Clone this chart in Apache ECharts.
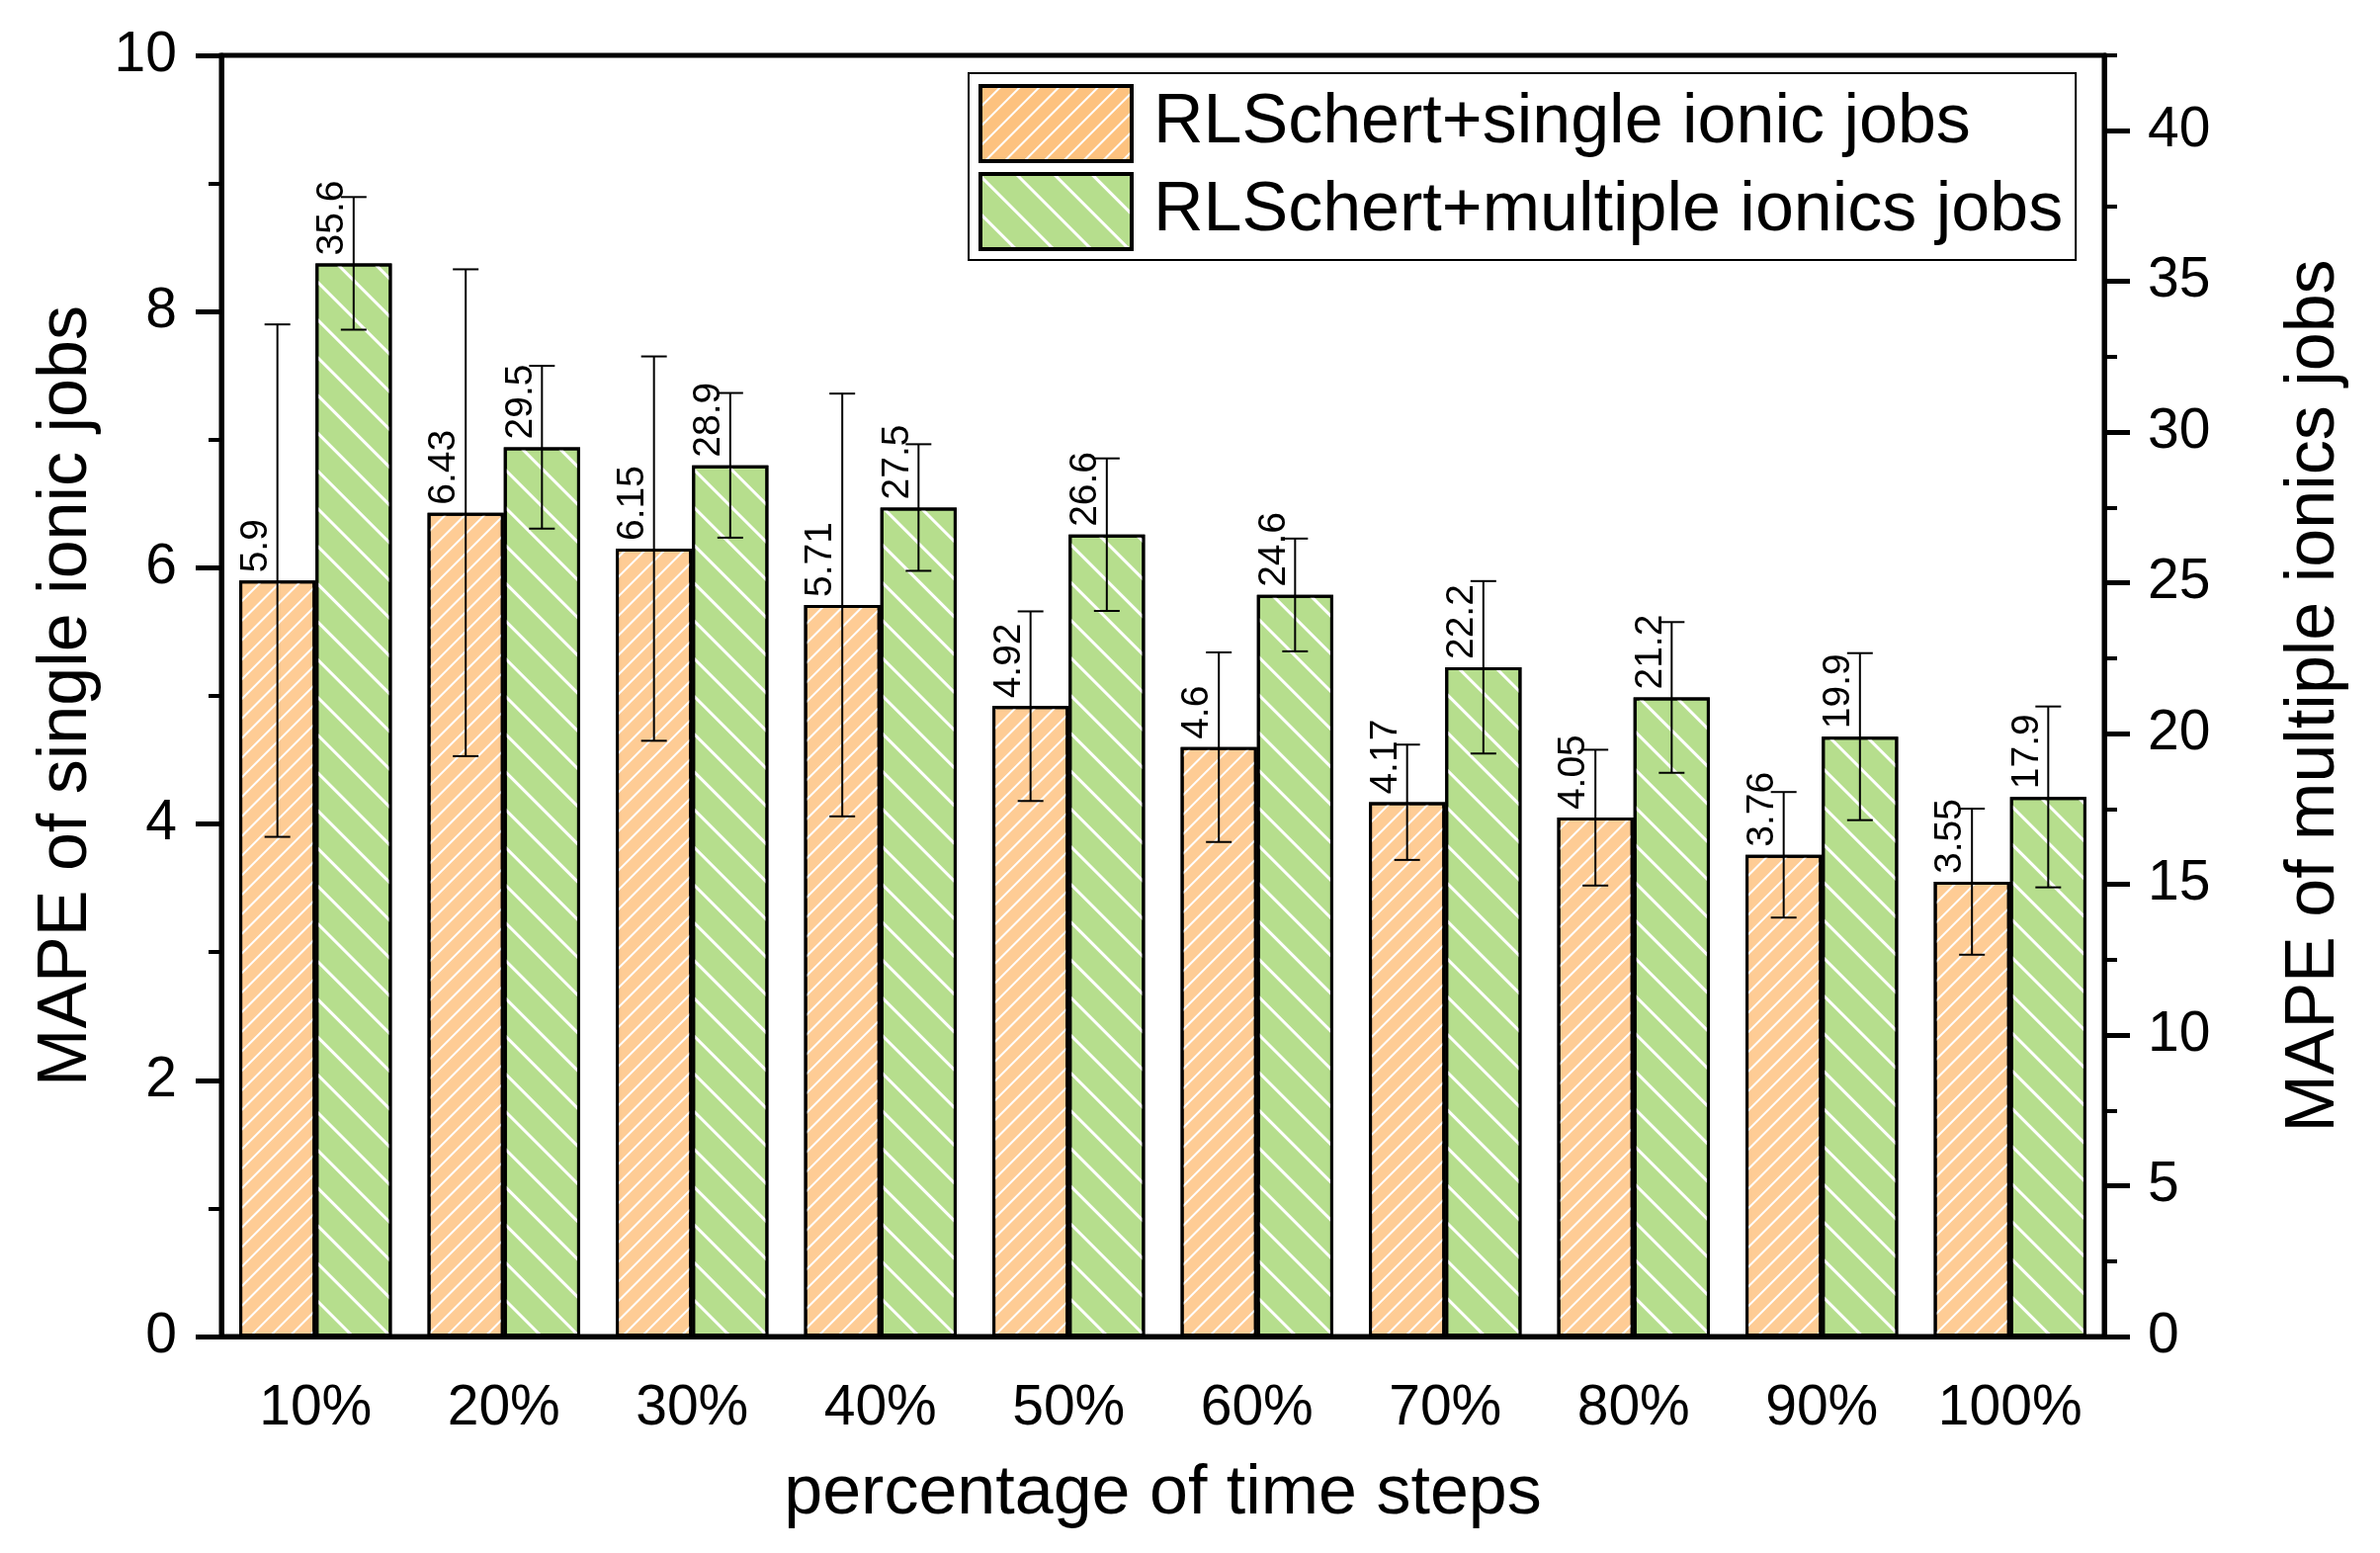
<!DOCTYPE html>
<html>
<head>
<meta charset="utf-8">
<title>MAPE vs percentage of time steps</title>
<script src="https://cdn.jsdelivr.net/npm/echarts@6/dist/echarts.min.js"></script>
<style>
  html, body { margin: 0; padding: 0; background: #fff; }
  #chart { width: 2408px; height: 1571px; }
</style>
</head>
<body>
<div id="chart"></div>
<script>
// categories on the x axis
var categories = ['10%', '20%', '30%', '40%', '50%', '60%', '70%', '80%', '90%', '100%'];

// MAPE of single ionic jobs (left axis) and its error
var singleMape = [5.9, 6.43, 6.15, 5.71, 4.92, 4.6, 4.17, 4.05, 3.76, 3.55];
var singleErr = [2.0, 1.9, 1.5, 1.65, 0.74, 0.74, 0.45, 0.53, 0.49, 0.57];

// MAPE of multiple ionics jobs (right axis) and its error
var multiMape = [35.6, 29.5, 28.9, 27.5, 26.6, 24.6, 22.2, 21.2, 19.9, 17.9];
var multiErr = [2.2, 2.7, 2.4, 2.1, 2.53, 1.87, 2.86, 2.5, 2.77, 3.0];

// tick labels of the right axis
var rightTicks = [0, 5, 10, 15, 20, 25, 30, 35, 40];

var singleName = 'RLSchert+single ionic jobs';
var multiName = 'RLSchert+multiple ionics jobs';
var font = 'Liberation Sans, Arial, sans-serif';
var barShare = 0.81; // both bars of a group together

var chart = echarts.init(document.getElementById('chart'));

// error bar drawn on the left (-1) or right (+1) bar of a group
function errorBar(side) {
    return function (params, api) {
        var i = api.value(0);
        var lo = api.coord([i, api.value(1)]);
        var hi = api.coord([i, api.value(2)]);
        var band = api.size([1, 0])[0];
        var x = lo[0] + side * band * barShare / 4;
        var cap = 13;
        var style = { stroke: '#000', lineWidth: 2 };
        return {
            type: 'group',
            children: [
                { type: 'line', shape: { x1: x, y1: hi[1], x2: x, y2: lo[1] }, style: style },
                { type: 'line', shape: { x1: x - cap, y1: hi[1], x2: x + cap, y2: hi[1] }, style: style },
                { type: 'line', shape: { x1: x - cap, y1: lo[1], x2: x + cap, y2: lo[1] }, style: style }
            ]
        };
    };
}

function errData(values, errs) {
    return values.map(function (v, i) {
        return [i, v - errs[i], v + errs[i]];
    });
}

var valueLabel = {
    show: true,
    position: [17, -8],
    rotate: 90,
    align: 'left',
    verticalAlign: 'middle',
    fontSize: 39,
    fontFamily: font,
    color: '#000'
};

var tickFont = { fontSize: 57, fontFamily: font, color: '#000' };
var titleFont = { fontSize: 70, fontFamily: font, color: '#000' };

var option = {
    animation: false,
    backgroundColor: '#fff',
    grid: {
        left: 224,
        right: 279,
        top: 56,
        bottom: 219,
        show: true,
        borderColor: '#000',
        borderWidth: 5,
        backgroundColor: 'transparent'
    },
    legend: {
        orient: 'vertical',
        left: 980,
        top: 74,
        padding: [11, 13, 9, 10],
        itemWidth: 153,
        itemHeight: 76,
        itemGap: 9,
        borderColor: '#000',
        borderWidth: 2,
        icon: 'rect',
        selectedMode: false,
        textStyle: {
            fontSize: 70,
            fontFamily: font,
            color: '#000',
            lineHeight: 76,
            padding: [0, 0, 0, 17]
        },
        data: [
            { name: singleName, itemStyle: { color: '#FDC27F', borderColor: '#000', borderWidth: 4 } },
            { name: multiName, itemStyle: { borderColor: '#000', borderWidth: 4 } }
        ]
    },
    xAxis: [{
        type: 'category',
        data: categories,
        position: 'bottom',
        name: 'percentage of time steps',
        nameLocation: 'middle',
        nameGap: 125,
        nameTextStyle: titleFont,
        axisLine: { lineStyle: { color: '#000', width: 5 } },
        axisTick: { alignWithLabel: true, length: 26, lineStyle: { color: '#000', width: 5 } },
        axisLabel: Object.assign({ margin: 45 }, tickFont),
        splitLine: { show: false }
    }, {
        // short ticks between the groups
        type: 'category',
        data: categories,
        position: 'bottom',
        axisLine: { show: false },
        axisTick: { length: 13, interval: 0, lineStyle: { color: '#000', width: 4 } },
        axisLabel: { show: false },
        splitLine: { show: false }
    }],
    yAxis: [{
        type: 'value',
        position: 'left',
        min: 0,
        max: 10,
        interval: 2,
        name: 'MAPE of single ionic jobs',
        nameLocation: 'middle',
        nameGap: 121,
        nameTextStyle: titleFont,
        axisLine: { show: true, lineStyle: { color: '#000', width: 5 } },
        axisTick: { show: true, length: 26, lineStyle: { color: '#000', width: 5 } },
        axisLabel: Object.assign({ margin: 45 }, tickFont),
        splitLine: { show: false }
    }, {
        type: 'value',
        position: 'right',
        min: 0,
        max: 42.5,
        interval: 5,
        name: 'MAPE of multiple ionics jobs',
        nameLocation: 'middle',
        nameGap: 178,
        nameTextStyle: titleFont,
        axisLine: { show: true, lineStyle: { color: '#000', width: 5 } },
        axisTick: { show: true, length: 26, customValues: rightTicks, lineStyle: { color: '#000', width: 5 } },
        axisLabel: Object.assign({ margin: 44, customValues: rightTicks }, tickFont),
        splitLine: { show: false }
    }, {
        // minor ticks, left
        type: 'value',
        position: 'left',
        min: 0,
        max: 10,
        interval: 1,
        axisLine: { show: false },
        axisTick: { show: true, length: 13, lineStyle: { color: '#000', width: 4 } },
        axisLabel: { show: false },
        splitLine: { show: false }
    }, {
        // minor ticks, right
        type: 'value',
        position: 'right',
        min: 0,
        max: 42.5,
        interval: 2.5,
        axisLine: { show: false },
        axisTick: { show: true, length: 13, lineStyle: { color: '#000', width: 4 } },
        axisLabel: { show: false },
        splitLine: { show: false }
    }],
    series: [{
        name: singleName,
        type: 'bar',
        xAxisIndex: 0,
        yAxisIndex: 0,
        data: singleMape,
        barGap: '0%',
        barCategoryGap: '19%',
        itemStyle: {
            color: '#FECC95',
            borderColor: '#000',
            borderWidth: 3,
            decal: {
                symbol: 'rect',
                symbolSize: 1,
                dashArrayX: [1, 0],
                dashArrayY: [1.5, 12],
                rotation: -Math.PI / 4,
                color: '#ffffff'
            }
        },
        label: valueLabel,
        emphasis: { disabled: true }
    }, {
        name: multiName,
        type: 'bar',
        xAxisIndex: 0,
        yAxisIndex: 1,
        data: multiMape,
        barGap: '0%',
        barCategoryGap: '19%',
        itemStyle: {
            color: '#B6DE8D',
            borderColor: '#000',
            borderWidth: 3,
            decal: {
                symbol: 'rect',
                symbolSize: 1,
                dashArrayX: [1, 0],
                dashArrayY: [3, 24],
                rotation: Math.PI / 4,
                color: '#ffffff'
            }
        },
        label: valueLabel,
        emphasis: { disabled: true }
    }, {
        name: 'single error',
        type: 'custom',
        xAxisIndex: 0,
        yAxisIndex: 0,
        data: errData(singleMape, singleErr),
        encode: { x: 0, y: [1, 2] },
        renderItem: errorBar(-1),
        z: 5
    }, {
        name: 'multiple error',
        type: 'custom',
        xAxisIndex: 0,
        yAxisIndex: 1,
        data: errData(multiMape, multiErr),
        encode: { x: 0, y: [1, 2] },
        renderItem: errorBar(1),
        z: 5
    }]
};

chart.setOption(option);
</script>
</body>
</html>
